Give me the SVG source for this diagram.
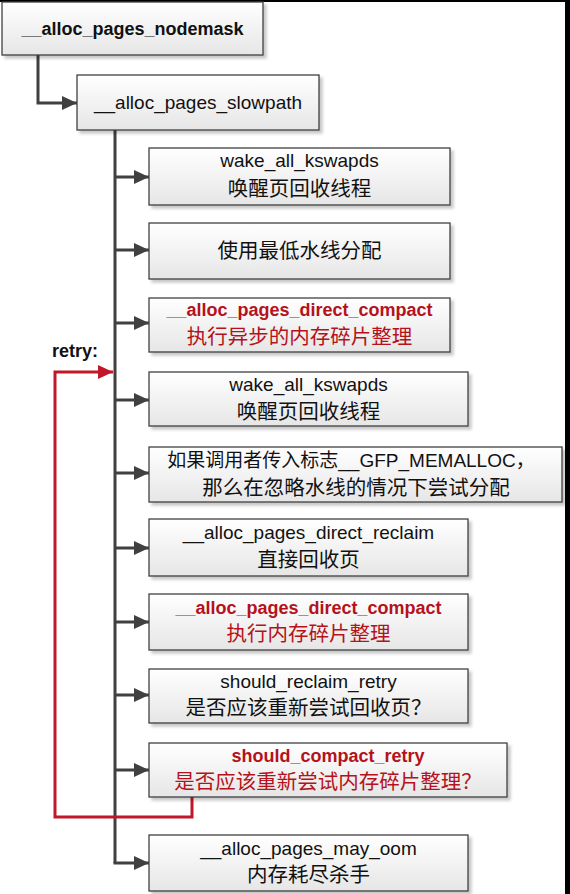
<svg xmlns="http://www.w3.org/2000/svg" width="570" height="894" viewBox="0 0 570 894">
<defs>
<linearGradient id="g" x1="0" y1="0" x2="0" y2="1">
<stop offset="0" stop-color="#ffffff"/>
<stop offset="1" stop-color="#e6e6e6"/>
</linearGradient>
<filter id="sh" x="-10%" y="-20%" width="130%" height="150%">
<feDropShadow dx="3" dy="3" stdDeviation="1.5" flood-color="#000" flood-opacity="0.22"/>
</filter>
<marker id="ah" markerUnits="userSpaceOnUse" markerWidth="16" markerHeight="14" refX="15" refY="7" orient="auto">
<path d="M0,0 L15,7 L0,14 z" fill="#404040"/>
</marker>
<marker id="ahr" markerUnits="userSpaceOnUse" markerWidth="16" markerHeight="14" refX="15" refY="7" orient="auto">
<path d="M0,0 L15,7 L0,14 z" fill="#c0182a"/>
</marker>
</defs>
<style>
.box{fill:url(#g);stroke:#404040;stroke-width:1.3;filter:url(#sh)}
text{font-family:"Liberation Sans","Noto Sans CJK SC",sans-serif;text-anchor:middle;fill:#111}
.en{font-size:19px}
.b{font-size:18px;font-weight:bold}
.cn{font-size:20.5px}
.red{fill:#b5121b}
.c{fill:none;stroke:#404040;stroke-width:3}
.r{fill:none;stroke:#c0182a;stroke-width:3}
</style>
<rect x="0" y="0" width="570" height="894" fill="#ffffff"/>
<rect x="0" y="0" width="570" height="2" fill="#000"/>
<rect x="565" y="0" width="5" height="894" fill="#000"/>

<g id="connectors">
<path class="c" d="M38,55 V103 H77" marker-end="url(#ah)"/>
<path class="c" d="M115,130 V863"/>
<path class="c" d="M115,177 H149" marker-end="url(#ah)"/>
<path class="c" d="M115,250 H149" marker-end="url(#ah)"/>
<path class="c" d="M115,323 H149" marker-end="url(#ah)"/>
<path class="c" d="M115,400 H149" marker-end="url(#ah)"/>
<path class="c" d="M115,473 H149" marker-end="url(#ah)"/>
<path class="c" d="M115,548 H149" marker-end="url(#ah)"/>
<path class="c" d="M115,622 H149" marker-end="url(#ah)"/>
<path class="c" d="M115,695 H149" marker-end="url(#ah)"/>
<path class="c" d="M115,770 H149" marker-end="url(#ah)"/>
<path class="c" d="M113.5,863 H149" marker-end="url(#ah)"/>
<path class="r" d="M192,797 V817 H55 V372 H113" marker-end="url(#ahr)"/>
</g>

<g id="n_nodemask">
<rect class="box" x="2" y="2" width="261" height="53"/>
<text class="b" x="132.5" y="35">__alloc_pages_nodemask</text>
</g>
<g id="n_slowpath">
<rect class="box" x="77" y="75" width="242" height="55"/>
<text class="en" x="198" y="109">__alloc_pages_slowpath</text>
</g>

<text id="retry" x="52" y="357" style="text-anchor:start;font-size:18px;font-weight:bold">retry:</text>

<g id="n_wake1">
<rect class="box" x="149" y="148" width="301" height="57"/>
<text class="en" x="299.5" y="167">wake_all_kswapds</text>
<text class="cn" x="299.5" y="196">唤醒页回收线程</text>
</g>
<g id="n_lowwm">
<rect class="box" x="149" y="223" width="301" height="56"/>
<text class="cn" x="299.5" y="258">使用最低水线分配</text>
</g>
<g id="n_compact_async">
<rect class="box" x="149" y="298" width="301" height="54"/>
<text class="b red" x="299.5" y="316">__alloc_pages_direct_compact</text>
<text class="cn red" x="299.5" y="344">执行异步的内存碎片整理</text>
</g>
<g id="n_wake2">
<rect class="box" x="149" y="372" width="319" height="54"/>
<text class="en" x="308.5" y="391">wake_all_kswapds</text>
<text class="cn" x="308.5" y="419">唤醒页回收线程</text>
</g>
<g id="n_memalloc">
<rect class="box" x="149" y="447" width="413" height="55"/>
<text class="cn" x="351" y="467" style="font-size:19px">如果调用者传入标志__GFP_MEMALLOC，</text>
<text class="cn" x="356" y="495">那么在忽略水线的情况下尝试分配</text>
</g>
<g id="n_reclaim">
<rect class="box" x="149" y="519" width="319" height="57"/>
<text class="en" x="308.5" y="539">__alloc_pages_direct_reclaim</text>
<text class="cn" x="308.5" y="567">直接回收页</text>
</g>
<g id="n_compact">
<rect class="box" x="149" y="594" width="319" height="56"/>
<text class="b red" x="308.5" y="614">__alloc_pages_direct_compact</text>
<text class="cn red" x="308.5" y="641">执行内存碎片整理</text>
</g>
<g id="n_reclaim_retry">
<rect class="box" x="149" y="669" width="319" height="54"/>
<text class="en" x="308.5" y="688">should_reclaim_retry</text>
<text class="cn" x="308.5" y="715">是否应该重新尝试回收页？</text>
</g>
<g id="n_compact_retry">
<rect class="box" x="149" y="743" width="358" height="54"/>
<text class="b red" x="328" y="762">should_compact_retry</text>
<text class="cn red" x="328" y="789">是否应该重新尝试内存碎片整理？</text>
</g>
<g id="n_oom">
<rect class="box" x="149" y="835" width="319" height="56"/>
<text class="en" x="308.5" y="855">__alloc_pages_may_oom</text>
<text class="cn" x="308.5" y="882">内存耗尽杀手</text>
</g>
</svg>
